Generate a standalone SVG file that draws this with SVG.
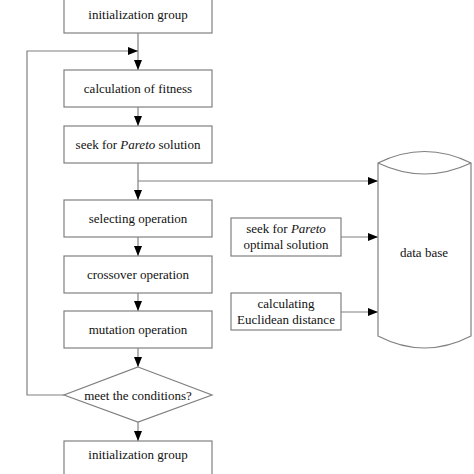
<svg xmlns="http://www.w3.org/2000/svg" width="474" height="474" viewBox="0 0 474 474">
<defs>
<marker id="ah" viewBox="0 0 10 8" refX="10" refY="4" markerWidth="10" markerHeight="8" markerUnits="userSpaceOnUse" orient="auto">
<path d="M0,0 L10,4 L0,8 Z" fill="#000"/>
</marker>
<style>
.box{fill:#fff;stroke:#808080;stroke-width:1.2}
.ln{fill:none;stroke:#808080;stroke-width:1.2}
.t{font-family:"Liberation Serif","Times New Roman",serif;font-size:13px;fill:#111;text-anchor:middle}
</style>
</defs>
<rect width="474" height="474" fill="#fff"/>
<g id="connectors">
<path class="ln" d="M138,33 V70" marker-end="url(#ah)"/>
<path class="ln" d="M64,395 H27 V51 H138" marker-end="url(#ah)"/>
<path class="ln" d="M138,107 V126" marker-end="url(#ah)"/>
<path class="ln" d="M138,163 V200" marker-end="url(#ah)"/>
<path class="ln" d="M138,181 H378" marker-end="url(#ah)"/>
<path class="ln" d="M138,237 V256" marker-end="url(#ah)"/>
<path class="ln" d="M138,293 V311" marker-end="url(#ah)"/>
<path class="ln" d="M138,348 V367" marker-end="url(#ah)"/>
<path class="ln" d="M138,422 V441" marker-end="url(#ah)"/>
<path class="ln" d="M341,237 H378" marker-end="url(#ah)"/>
<path class="ln" d="M341,312 H378" marker-end="url(#ah)"/>
</g>
<g id="n1"><rect class="box" x="64" y="-5" width="148" height="38"/><text class="t" x="138" y="18.5">initialization group</text></g>
<g id="n2"><rect class="box" x="64" y="70" width="148" height="37"/><text class="t" x="138" y="92.5">calculation of fitness</text></g>
<g id="n3"><rect class="box" x="64" y="126" width="148" height="37"/><text class="t" x="138" y="148.5">seek for <tspan font-style="italic">Pareto</tspan> solution</text></g>
<g id="n4"><rect class="box" x="64" y="200" width="148" height="37"/><text class="t" x="138" y="222.5">selecting operation</text></g>
<g id="n5"><rect class="box" x="64" y="256" width="148" height="37"/><text class="t" x="138" y="278.5">crossover operation</text></g>
<g id="n6"><rect class="box" x="64" y="311" width="148" height="37"/><text class="t" x="138" y="333.5">mutation operation</text></g>
<g id="n7"><path class="box" d="M138,367 L212,395 L138,422 L64,395 Z"/><text class="t" x="138" y="399.5">meet the conditions?</text></g>
<g id="n8"><rect class="box" x="64" y="441" width="148" height="40"/><text class="t" x="138" y="458.5">initialization group</text></g>
<g id="n9"><rect class="box" x="231" y="218" width="110" height="38"/><text class="t" x="286" y="233">seek for <tspan font-style="italic">Pareto</tspan></text><text class="t" x="286" y="249">optimal solution</text></g>
<g id="n10"><rect class="box" x="231" y="293" width="110" height="37"/><text class="t" x="286" y="307.5">calculating</text><text class="t" x="286" y="323.5">Euclidean distance</text></g>
<g id="n11">
<path class="box" d="M378,163 Q424.5,140 471,163 V336 Q424.5,360 378,336 Z"/>
<path class="ln" d="M378,163 Q424.5,185 471,163"/>
<text class="t" x="424" y="256.5">data base</text>
</g>
</svg>
